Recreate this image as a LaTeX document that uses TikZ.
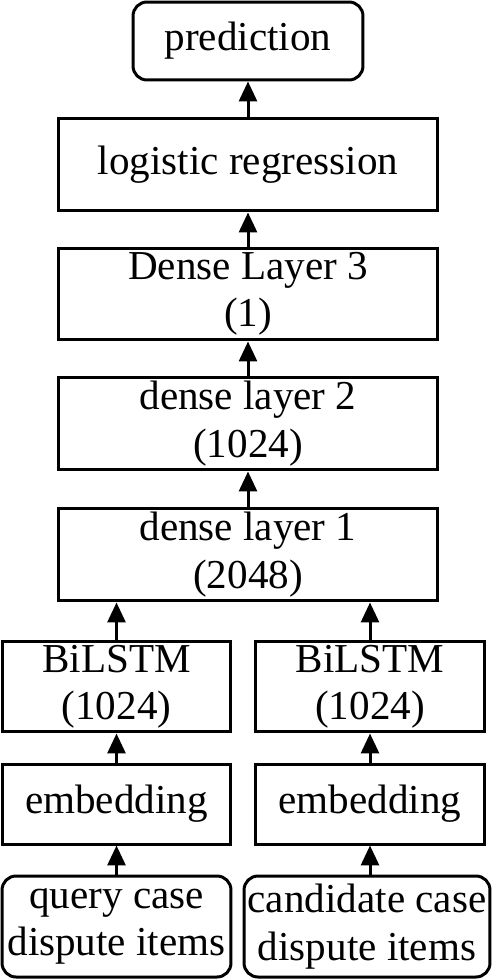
\documentclass[tikz,border=0pt]{standalone}
\usepackage{fontspec}
\setmainfont{Liberation Serif}
\usetikzlibrary{arrows.meta}
\begin{document}
\begin{tikzpicture}[x=0.02cm,y=-0.02cm,line width=0.06cm,
    box/.style={draw,rectangle,align=center,inner sep=0pt,font=\fontsize{23.4}{27}\selectfont},
    rbox/.style={box,rounded corners=0.28cm},
    up/.style={-{Triangle[width=0.36cm,length=0.4cm]}}]
        \useasboundingbox (0,0) rectangle (497,979);
        \node[rbox,minimum width=4.6cm,minimum height=1.56cm] (P) at (248,41) {prediction};
        \node[box,minimum width=7.6cm,minimum height=1.86cm] (LR) at (248,164.5) {logistic regression};
        \node[box,minimum width=7.6cm,minimum height=1.84cm] (D3) at (248,294) {Dense Layer 3\\(1)};
        \node[box,minimum width=7.6cm,minimum height=1.86cm] (D2) at (248,423.5) {dense layer 2\\(1024)};
        \node[box,minimum width=7.6cm,minimum height=1.86cm] (D1) at (248,554.5) {dense layer 1\\(2048)};
        \node[box,minimum width=4.58cm,minimum height=1.82cm] (BL) at (116.5,686.5) {BiLSTM\\(1024)};
        \node[box,minimum width=4.6cm,minimum height=1.82cm] (BR) at (370,686.5) {BiLSTM\\(1024)};
        \node[box,minimum width=4.58cm,minimum height=1.6cm] (EL) at (116.5,804) {embedding};
        \node[box,minimum width=4.6cm,minimum height=1.6cm] (ER) at (370,804) {embedding};
        \node[rbox,minimum width=4.58cm,minimum height=2.02cm] (QL) at (116.5,926.5) {query case\\dispute items};
        \node[rbox,minimum width=4.92cm,minimum height=2.02cm] (QR) at (367,926.5) {candidate case\\dispute items};
        \draw[up] (LR) -- (P);
        \draw[up] (D3) -- (LR);
        \draw[up] (D2) -- (D3);
        \draw[up] (D1) -- (D2);
        \draw[up] (BL) -- (BL |- D1.south);
        \draw[up] (BR) -- (BR |- D1.south);
        \draw[up] (EL) -- (BL);
        \draw[up] (ER) -- (BR);
        \draw[up] (QL.north -| EL) -- (EL);
        \draw[up] (QR.north -| ER) -- (ER);
      \end{tikzpicture}
\end{document}
